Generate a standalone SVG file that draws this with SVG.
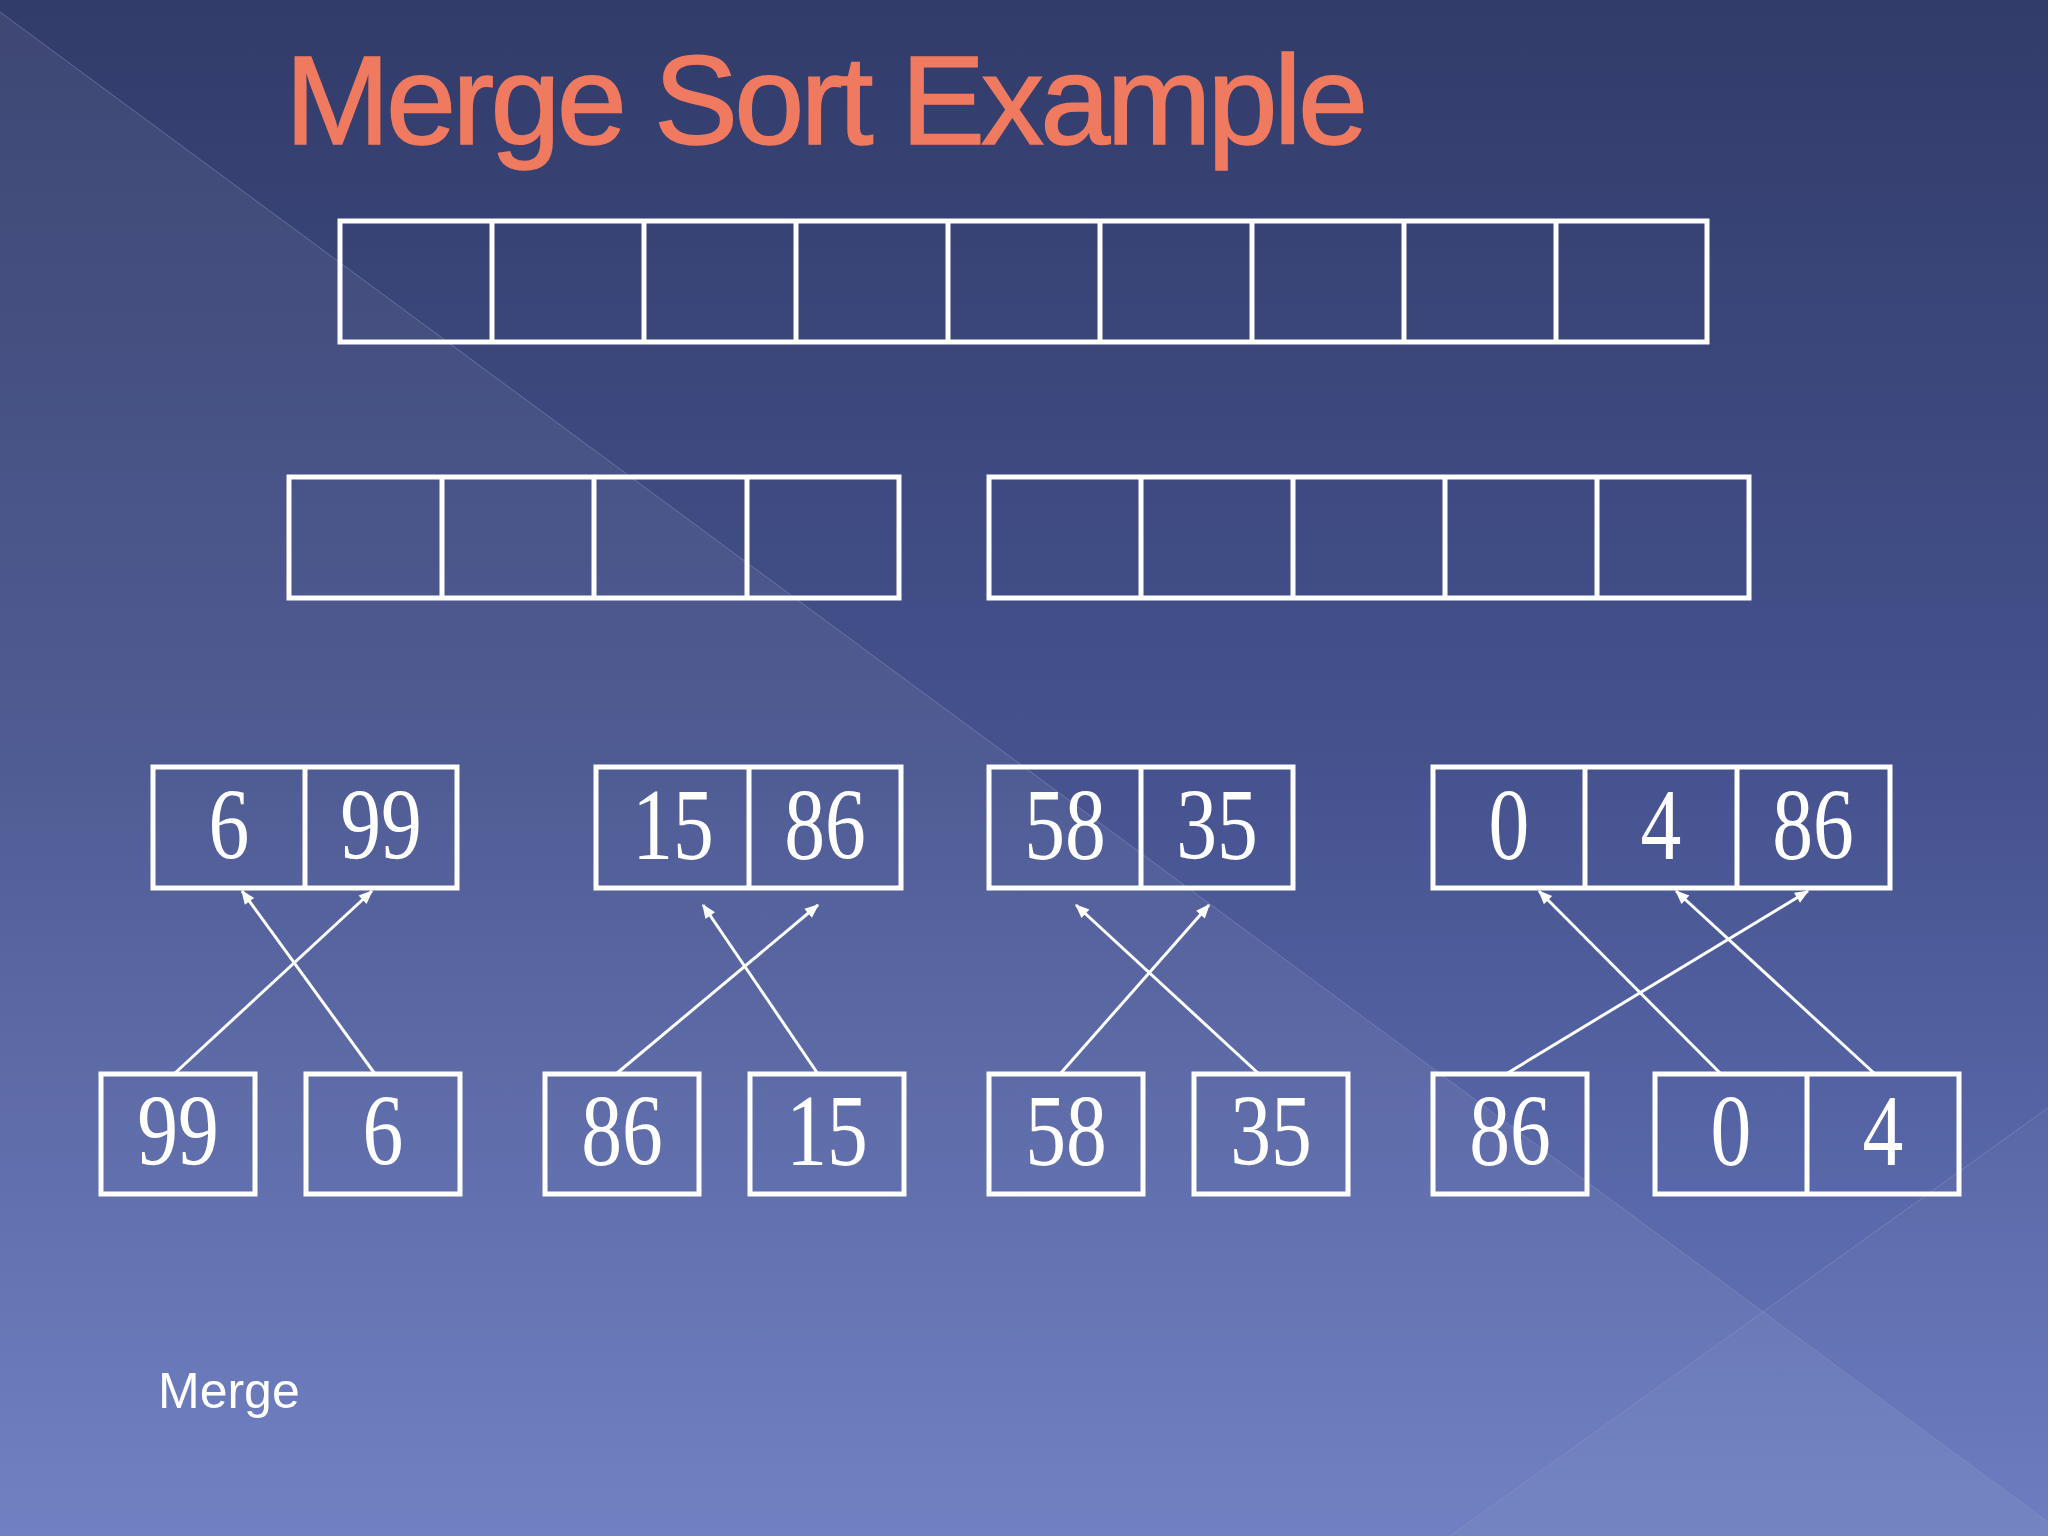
<svg xmlns="http://www.w3.org/2000/svg" width="2048" height="1536" viewBox="0 0 2048 1536">
<defs>
<linearGradient id="bg" x1="0" y1="0" x2="0" y2="1">
<stop offset="0" stop-color="#323c6a"/><stop offset="0.5" stop-color="#45528e"/><stop offset="1" stop-color="#6879bf"/>
</linearGradient>
<style>
.c{fill:none;stroke:#fff;stroke-width:5}
.n{font-family:"Liberation Serif",serif;font-size:102px;fill:#fff;text-anchor:middle}
</style>
<marker id="ah2" viewBox="0 0 12 12" refX="11" refY="6" markerWidth="16" markerHeight="14" orient="auto" markerUnits="userSpaceOnUse"><path d="M0,1 L12,6 L0,11 z" fill="#fff"/></marker>
</defs>
<rect width="2048" height="1536" fill="url(#bg)"/>
<polygon points="0,12 2048,1522 2048,1536 0,1536" fill="#ffffff" opacity="0.06"/>
<polygon points="1450,1536 2048,1108 2048,1536" fill="#ffffff" opacity="0.03"/>
<line x1="0" y1="12" x2="2048" y2="1522" stroke="#8a96c8" stroke-width="1" opacity="0.5"/>
<line x1="1450" y1="1536" x2="2048" y2="1108" stroke="#8a96c8" stroke-width="1" opacity="0.5"/>
<text x="285" y="144" font-family="Liberation Sans, Arial, sans-serif" font-size="126" fill="#f07a60" stroke="#f07a60" stroke-width="1.5" textLength="1083">Merge Sort Example</text>
<g id="row1"><rect class="c" x="340" y="221" width="1367" height="121"/>
<path class="c" d="M492,221V342M644,221V342M796,221V342M948,221V342M1100,221V342M1252,221V342M1404,221V342M1556,221V342"/></g>
<g id="row2a"><rect class="c" x="289" y="477" width="610" height="121"/><path class="c" d="M442,477V598M594,477V598M747,477V598"/></g>
<g id="row2b"><rect class="c" x="989" y="477" width="760" height="121"/><path class="c" d="M1141,477V598M1293,477V598M1445,477V598M1597,477V598"/></g>
<g id="m1"><rect class="c" x="153" y="767" width="304" height="121"/><path class="c" d="M305,767V888"/><text class="n" transform="translate(229,859) scale(0.8,1)">6</text><text class="n" transform="translate(381,859) scale(0.8,1)">99</text></g>
<g id="m2"><rect class="c" x="596" y="767" width="305" height="121"/><path class="c" d="M749,767V888"/><text class="n" transform="translate(673,859) scale(0.8,1)">15</text><text class="n" transform="translate(825,859) scale(0.8,1)">86</text></g>
<g id="m3"><rect class="c" x="989" y="767" width="304" height="121"/><path class="c" d="M1141,767V888"/><text class="n" transform="translate(1065,859) scale(0.8,1)">58</text><text class="n" transform="translate(1217,859) scale(0.8,1)">35</text></g>
<g id="m4"><rect class="c" x="1433" y="767" width="457" height="121"/><path class="c" d="M1585,767V888M1737,767V888"/><text class="n" transform="translate(1509,859) scale(0.8,1)">0</text><text class="n" transform="translate(1661,859) scale(0.8,1)">4</text><text class="n" transform="translate(1813,859) scale(0.8,1)">86</text></g>
<g id="b1"><rect class="c" x="101" y="1074" width="154" height="120"/><text class="n" transform="translate(178,1165) scale(0.8,1)">99</text></g>
<g id="b2"><rect class="c" x="306" y="1074" width="154" height="120"/><text class="n" transform="translate(383,1165) scale(0.8,1)">6</text></g>
<g id="b3"><rect class="c" x="545" y="1074" width="154" height="120"/><text class="n" transform="translate(622,1165) scale(0.8,1)">86</text></g>
<g id="b4"><rect class="c" x="750" y="1074" width="154" height="120"/><text class="n" transform="translate(827,1165) scale(0.8,1)">15</text></g>
<g id="b5"><rect class="c" x="989" y="1074" width="154" height="120"/><text class="n" transform="translate(1066,1165) scale(0.8,1)">58</text></g>
<g id="b6"><rect class="c" x="1194" y="1074" width="154" height="120"/><text class="n" transform="translate(1271,1165) scale(0.8,1)">35</text></g>
<g id="b7"><rect class="c" x="1433" y="1074" width="154" height="120"/><text class="n" transform="translate(1510,1165) scale(0.8,1)">86</text></g>
<g id="b8"><rect class="c" x="1655" y="1074" width="304" height="120"/><path class="c" d="M1807,1074V1194"/><text class="n" transform="translate(1731,1165) scale(0.8,1)">0</text><text class="n" transform="translate(1883,1165) scale(0.8,1)">4</text></g>
<g id="connectors" stroke="#fff" stroke-width="3" marker-end="url(#ah2)">
<line x1="174" y1="1074" x2="372" y2="891"/>
<line x1="375" y1="1074" x2="242" y2="891"/>
<line x1="616" y1="1074" x2="818" y2="905"/>
<line x1="818" y1="1074" x2="703" y2="905"/>
<line x1="1060" y1="1074" x2="1209" y2="905"/>
<line x1="1259" y1="1074" x2="1076" y2="905"/>
<line x1="1506" y1="1074" x2="1808" y2="891"/>
<line x1="1721" y1="1074" x2="1539" y2="891"/>
<line x1="1875" y1="1074" x2="1676" y2="891"/>
</g>
<text x="158" y="1408" font-family="Liberation Sans, Arial, sans-serif" font-size="50" fill="#fff">Merge</text>
</svg>
